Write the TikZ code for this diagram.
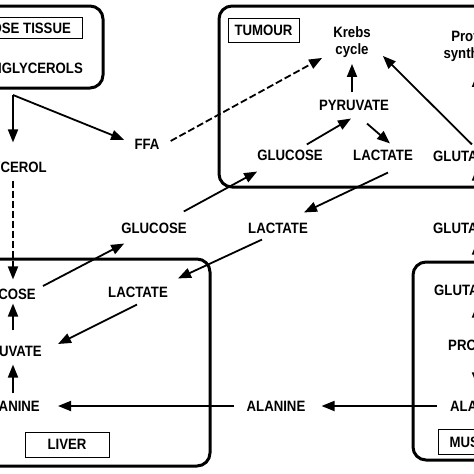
\documentclass[tikz,border=0pt]{standalone}
\usepackage{fontspec}
\setmainfont{Liberation Sans}[FakeStretch=0.88]
\usetikzlibrary{arrows.meta}

\begin{document}
\begin{tikzpicture}[x=1pt,y=-1pt,
  met/.style={font=\bfseries\fontsize{15}{17}\selectfont, inner sep=0pt, text height=10.7pt, text depth=0pt},
  twoline/.style={font=\bfseries\fontsize{15}{17.5}\selectfont, inner sep=0pt, align=center},
  tag/.style={draw, line width=1pt, font=\bfseries\fontsize{15}{17}\selectfont, inner sep=0pt},
  organ/.style={line width=3pt, rounded corners=13pt},
  arr/.style={line width=1.8pt, -{Triangle[length=13pt,width=10pt]}},
  darr/.style={arr, dash pattern=on 7pt off 3pt}]
\useasboundingbox (0,0) rectangle (474,474);
\clip (0,0) rectangle (474,474);

\draw[organ] (-40,6) rectangle (103,88);
\draw[organ] (219,6) rectangle (520,187);
\draw[organ] (-40,259) rectangle (210,466);
\draw[organ] (413,262) rectangle (520,460);

\node[tag, minimum width=133pt, minimum height=21pt] (adtag) at (15.5,28) {ADIPOSE TISSUE};
\node[tag, minimum width=71pt, minimum height=24pt] (tutag) at (263.5,30) {TUMOUR};
\node[tag, minimum width=84pt, minimum height=25pt] (litag) at (67,444.5) {LIVER};
\node[tag, minimum width=79pt, minimum height=25pt] (mutag) at (477.5,442) {MUSCLE};

\node[met, anchor=east] (trig) at (83,68) {TRIGLYCEROLS};
\node[met] (ffa) at (147,144) {FFA};
\node[met, anchor=east] (glyc) at (47,167) {GLYCEROL};
\node[met, anchor=east] (lglu) at (36,294) {GLUCOSE};
\node[met, anchor=east] (lpyr) at (42,351) {PYRUVATE};
\node[met, anchor=east] (lala) at (40,406) {ALANINE};
\node[met] (llac) at (138,292) {LACTATE};
\node[met] (mglu) at (154,228) {GLUCOSE};
\node[met] (mlac) at (278,228) {LACTATE};
\node[met, anchor=west] (mgln) at (433,228) {GLUTAMINE};
\node[met] (mala) at (276,406) {ALANINE};
\node[twoline] (krebs) at (352,42) {Krebs\\cycle};
\node[met] (tpyr) at (354,105) {PYRUVATE};
\node[met] (tglu) at (290,155) {GLUCOSE};
\node[met] (tlac) at (383,155) {LACTATE};
\node[met, anchor=west] (tgln) at (433,156) {GLUTAMINE};
\node[twoline] (psyn) at (474,46) {Protein\\synthesis};
\node[met, anchor=west] (musgln) at (434,290) {GLUTAMINE};
\node[met, anchor=west] (prot) at (448,345) {PROTEIN};
\node[met, anchor=west] (musala) at (450,406) {ALANINE};

\coordinate (split) at (13,95);
\coordinate (rcol) at (477,0);

\draw[arr, shorten >=19pt] (split) -- (split |- glyc.north);
\draw[arr, shorten >=11pt] (split) -- (ffa.west);
\draw[darr] ([xshift=11pt,yshift=3pt]ffa.east) -- ([xshift=-11pt]krebs.south west);
\draw[darr, shorten <=8pt, shorten >=9pt] (split |- glyc.south) -- (split |- lglu.north);
\draw[arr, shorten <=15pt, shorten >=4pt] (split |- lpyr.north) -- (split |- lglu.south);
\draw[arr, shorten <=7pt, shorten >=8pt] (split |- lala.north) -- (split |- lpyr.south);
\draw[arr] ([xshift=7pt,yshift=8pt]lglu.east) -- ([xshift=3pt,yshift=-10pt]mglu.south west);
\draw[arr] ([xshift=-3pt,yshift=11pt]mglu.north east) -- ([yshift=-11pt]tglu.south west);
\draw[arr] ([xshift=-16pt,yshift=5pt]tglu.north east) -- ([xshift=-3pt,yshift=-8pt]tpyr.south);
\draw[arr] ([xshift=13pt,yshift=-13pt]tpyr.south) -- ([xshift=7pt,yshift=6pt]tlac.north);
\draw[arr, shorten <=7pt, shorten >=6pt] (krebs.south |- tpyr.north) -- (krebs.south);
\draw[arr] ([yshift=6pt]tgln.north) -- ([xshift=12pt,yshift=2pt]krebs.south east);
\draw[arr] ([xshift=5pt,yshift=-12pt]tlac.south) -- ([xshift=-4pt,yshift=10pt]mlac.north east);
\draw[arr] ([xshift=14pt,yshift=-6pt]mlac.south west) -- ([xshift=10pt,yshift=8pt]llac.north east);
\draw[arr] ([xshift=-1pt,yshift=-7pt]llac.south) -- ([xshift=16pt,yshift=7pt]lpyr.east);
\draw[arr, shorten <=12pt, shorten >=18pt] (mala.west) -- (lala.east);
\draw[arr, shorten <=13pt, shorten >=16pt] (musala.west) -- (mala.east);

\draw[darr, shorten <=4pt, shorten >=12pt] (rcol |- tgln.north) -- (rcol |- psyn.south);
\draw[arr, shorten <=6pt, shorten >=6pt] (rcol |- mgln.north) -- (rcol |- tgln.south);
\draw[arr, shorten <=6pt, shorten >=8pt] (rcol |- musgln.north) -- (rcol |- mgln.south);
\draw[arr, shorten <=6pt, shorten >=9pt] (rcol |- prot.north) -- (rcol |- musgln.south);
\draw[arr, shorten <=6pt, shorten >=15pt] (rcol |- prot.south) -- (rcol |- musala.north);
\end{tikzpicture}
\end{document}
